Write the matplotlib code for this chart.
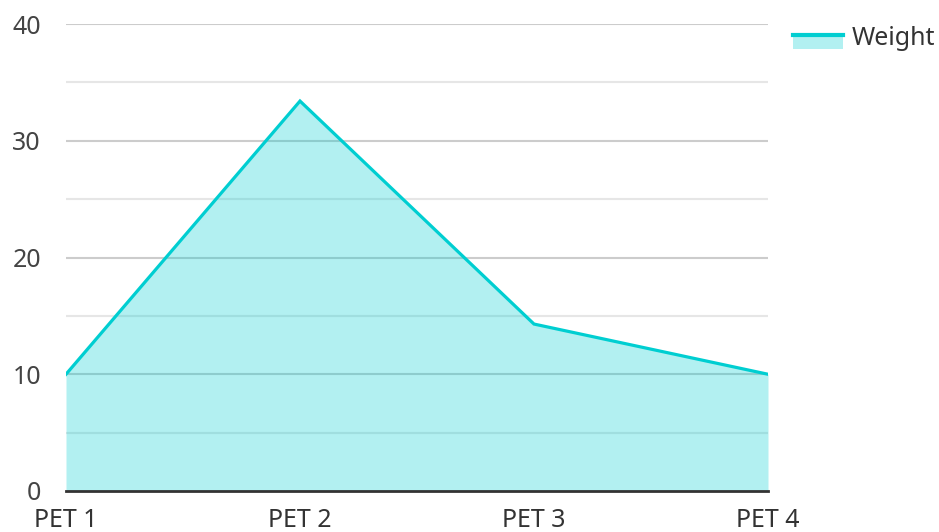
import matplotlib
matplotlib.use("Agg")
import matplotlib.pyplot as plt
from matplotlib.legend_handler import HandlerBase
from matplotlib.patches import Rectangle
from matplotlib.lines import Line2D

categories = ["PET 1", "PET 2", "PET 3", "PET 4"]
weight = [10.0, 33.4, 14.3, 10.0]
series_name = "Weight"

plt.rcParams['font.family'] = ['Noto Sans', 'DejaVu Sans']

W, H = 939, 532
fig = plt.figure(figsize=(W/100, H/100), dpi=100)
ax = fig.add_axes([66/W, 1-491/H, (768-66)/W, (491-24)/H])

color = "#00CED1"
x = list(range(len(categories)))

ax.set_ylim(0, 40)
ax.set_xlim(0, len(categories)-1)
for v in [5, 15, 25, 35]:
    ax.axhline(v, color="#e6e6e6", lw=1.5, zorder=0)
for v in [10, 20, 30, 40]:
    ax.axhline(v, color="#cccccc", lw=1.5, zorder=0)

ax.fill_between(x, 0, weight, color=color, alpha=0.3, lw=0, zorder=1)
ax.plot(x, weight, color=color, lw=2.3, zorder=2, solid_joinstyle='miter')
ax.axhline(0, color="#333333", lw=2, zorder=3, clip_on=False)

for s in ax.spines.values():
    s.set_visible(False)
ax.set_yticks([0, 10, 20, 30, 40])
ax.set_xticks(x)
ax.set_xticklabels(categories)
ax.tick_params(axis='y', length=0, pad=18, labelsize=18, labelcolor="#444444")
ax.tick_params(axis='x', length=0, pad=12, labelsize=18, labelcolor="#333333")

class AreaHandler(HandlerBase):
    def create_artists(self, legend, orig_handle, xdescent, ydescent, width, height, fontsize, trans):
        r = Rectangle((-xdescent, -ydescent - height*0.2), width, height*0.85,
                      facecolor=color, alpha=0.3, lw=0, transform=trans)
        l = Line2D([-xdescent, -xdescent + width], [-ydescent + height*0.55]*2,
                   color=color, lw=3, transform=trans)
        return [r, l]

proxy = Rectangle((0, 0), 1, 1)
leg = fig.legend([proxy], [series_name], handler_map={Rectangle: AreaHandler()},
                 loc="upper left", bbox_to_anchor=(793/W, 1-26/H), frameon=False,
                 fontsize=18, handlelength=2.0, handletextpad=0.35, borderaxespad=0,
                 borderpad=0)
for t in leg.get_texts():
    t.set_color("#333333")

fig.savefig("out.png", dpi=100)
